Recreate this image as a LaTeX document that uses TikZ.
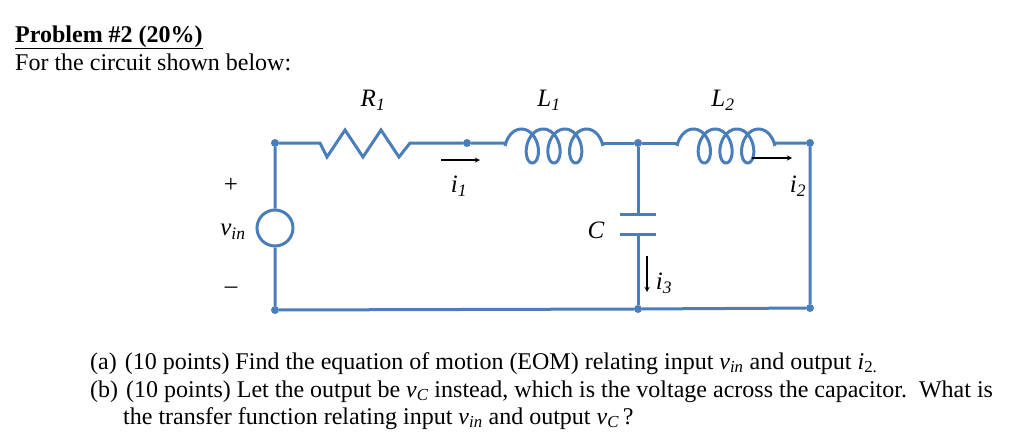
\documentclass[tikz,border=0pt]{standalone}
\usepackage{fontspec}
\setmainfont{Liberation Serif}
\definecolor{cb}{RGB}{74,126,187}
\begin{document}
\begin{tikzpicture}[x=1pt,y=-1pt,
  w/.style={draw=cb,line width=3pt},
  dot/.style={circle,fill=cb,inner sep=0pt,minimum size=8pt},
  lab/.style={font=\fontsize{25}{27}\selectfont},
  txt/.style={font=\fontsize{24}{26}\selectfont,anchor=base west,inner sep=0pt},
  cur/.style={-stealth,line width=1.3pt}]
\useasboundingbox (0,0) rectangle (1024,440);
% nodes
\node[dot] (tl) at (275,143) {};
\node[dot] (bl) at (275,310) {};
\node[dot] (a) at (467,143) {};
\node[dot] (m) at (638,143) {};
\node[dot] (tr) at (810,143) {};
\node[dot] (br) at (810,308) {};
\node[dot] (mb) at (638,309) {};
\node[circle,draw=cb,line width=3pt,minimum size=36pt,inner sep=0pt] (src) at (275,228) {};
\coordinate (r0) at (320,143); \coordinate (r1) at (415,143);
\coordinate (c1) at (638,214); \coordinate (c2) at (638,234);
% wires
\draw[w] (src) -- (tl) -- (r0) -- (327,157) -- (345,130) -- (363,157) -- (381,130) -- (399,157) -- (410,143) -- (r1) -- (a) -- (505,143);
\draw[w] plot[domain=-1.5708:20.42,samples=200,smooth] ({554+3.45*(\x-9.4248)+11*sin(\x r)},{146-17*cos(\x r)});
\draw[w] (603,143) -- (m) -- (677,143);
\draw[w] plot[domain=-1.5708:20.42,samples=200,smooth] ({726+3.45*(\x-9.4248)+11*sin(\x r)},{146-17*cos(\x r)});
\draw[w] (775,143) -- (tr) -- (br) -- (mb) -- (bl) -- (src);
\draw[w] (m) -- (c1); \draw[w] (c2) -- (mb);
\draw[w] (620,214) -- (656,214); \draw[w] (620,234) -- (656,234);
% currents
\coordinate (i1a) at (441,160); \coordinate (i1b) at (480,160);
\coordinate (i2a) at (752,158); \coordinate (i2b) at (792,158);
\coordinate (i3a) at (647,256); \coordinate (i3b) at (647,292);
\draw[cur] (i1a) -- (i1b); \draw[cur] (i2a) -- (i2b); \draw[cur] (i3a) -- (i3b);
% labels
\node[lab] (lR) at (373,100) {\textit{R\textsubscript{1}}};
\node[lab] (lL1) at (549,100) {\textit{L\textsubscript{1}}};
\node[lab] (lL2) at (723,100) {\textit{L\textsubscript{2}}};
\node[lab] (lC) at (596,230) {\textit{C}};
\node[lab] (li1) at (459,186) {\textit{i\textsubscript{1}}};
\node[lab] (li2) at (798,186) {\textit{i\textsubscript{2}}};
\node[lab] (li3) at (664,283) {\textit{i\textsubscript{3}}};
\node[lab] (lp) at (231,185) {+};
\node[lab] (lv) at (233,232) {\textit{v\textsubscript{in}}};
\node[lab] (lm) at (231,290) {--};
% text
\node[txt] (t1) at (15,42) {\textbf{\underline{Problem \#2 (20\%)}}};
\node[txt] (t2) at (15,70) {For the circuit shown below:};
\node[txt] (t3) at (90,369) {(a)\hspace{8pt}(10 points) Find the equation of motion (EOM) relating input \textit{v\textsubscript{in}} and output \textit{i}\textsubscript{2.}};
\node[txt] (t4) at (90,397) {(b)\hspace{8pt}(10 points) Let the output be \textit{v\textsubscript{C}} instead, which is the voltage across the capacitor.\ \ What is};
\node[txt] (t5) at (123,424) {the transfer function relating input \textit{v\textsubscript{in}} and output \textit{v\textsubscript{C}}\,?};
\end{tikzpicture}
\end{document}
